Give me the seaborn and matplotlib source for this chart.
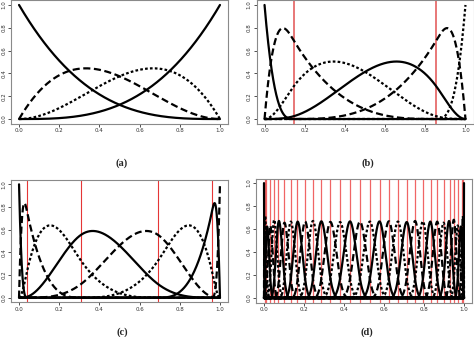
import numpy as np
import pandas as pd
import matplotlib
matplotlib.use("Agg")
import matplotlib.pyplot as plt
import seaborn as sns

# ---- data: interior knot positions (cubic B-spline bases on [0, 1]) ----
knots_a = []
knots_b = [0.145, 0.855]
knots_c = [0.04, 0.31, 0.69, 0.96]
knots_d = [0.003, 0.01, 0.03, 0.05, 0.072, 0.10, 0.133, 0.167, 0.205, 0.243, 0.285,
           0.33, 0.38, 0.43, 0.48, 0.53, 0.578, 0.625, 0.67, 0.715, 0.757, 0.795,
           0.833, 0.867, 0.90, 0.928, 0.95, 0.97, 0.99, 0.997]
panel_labels = ["(a)", "(b)", "(c)", "(d)"]
xticks = [0.0, 0.2, 0.4, 0.6, 0.8, 1.0]
xtick_labels = ["0.0", "0.2", "0.4", "0.6", "0.8", "1.0"]
yticks = [0.0, 0.2, 0.4, 0.6, 0.8, 1.0]
ytick_labels = ["0.0", "0.2", "0.4", "0.6", "0.8", "1.0"]
degree = 3


def bspline_basis(x, interior, k=3):
    t = np.concatenate([np.zeros(k + 1), np.array(interior, float), np.ones(k + 1)])
    n = len(t) - k - 1
    B = np.zeros((len(x), len(t) - 1))
    for i in range(len(t) - 1):
        if t[i] < t[i + 1]:
            B[:, i] = (x >= t[i]) & (x < t[i + 1])
    last = np.max(np.nonzero(t[:-1] < t[1:])[0])
    B[x >= 1.0, :] = 0
    B[x >= 1.0, last] = 1
    for d in range(1, k + 1):
        Bn = np.zeros((len(x), len(t) - 1 - d))
        for i in range(len(t) - 1 - d):
            a = t[i + d] - t[i]
            b = t[i + d + 1] - t[i + 1]
            term = 0
            if a > 0:
                term = term + (x - t[i]) / a * B[:, i]
            if b > 0:
                term = term + (t[i + d + 1] - x) / b * B[:, i + 1]
            Bn[:, i] = term
        B = Bn
    return B[:, :n]


sns.set_style("white")
W, H = 474, 337
fig = plt.figure(figsize=(W / 100, H / 100), dpi=100)


def ax_at(l, t, r, b):
    return fig.add_axes([l / W, 1 - b / H, (r - l) / W, (b - t) / H])


axes = [ax_at(11, 0.4, 228, 123.6), ax_at(256.5, 0.4, 473.5, 123.6),
        ax_at(11, 179.8, 228, 302.2), ax_at(256, 178.5, 472, 302.6)]
knot_sets = [knots_a, knots_b, knots_c, knots_d]
styles = [(None, "-"), ((3.2, 1.6), "--"), ((1.2, 1.0), ":")]
red_color = ["#e32020", "#e04848", "#e32020", "#ee4a4a"]
red_lw = [0, 1.3, 0.8, 0.9]
red_alpha = [0, 0.8, 0.9, 0.85]
label_pos = [(122, 163), (368, 163), (122, 332), (367, 332)]

x = np.linspace(0, 1, 1200)
for idx, (ax, kn) in enumerate(zip(axes, knot_sets)):
    B = bspline_basis(x, kn, degree)
    for j in kn:
        ax.axvline(j, color=red_color[idx], lw=red_lw[idx], alpha=red_alpha[idx], zorder=1)
    for j in range(B.shape[1]):
        dash, ls = styles[j % 3]
        df = pd.DataFrame({"x": x, "y": B[:, j]})
        sns.lineplot(data=df, x="x", y="y", ax=ax, sort=False, estimator=None,
                     color="black", lw=1.6, zorder=2)
        if dash is not None:
            ax.lines[-1].set_dashes(dash)
    ax.set_xlim(-0.04, 1.04)
    ax.set_ylim(-0.04, 1.04)
    ax.set_xlabel("")
    ax.set_ylabel("")
    ax.set_xticks(xticks)
    ax.set_xticklabels(xtick_labels)
    ax.set_yticks(yticks)
    ax.set_yticklabels(ytick_labels, rotation=90, va="center")
    ax.tick_params(axis="both", which="both", length=2, width=0.6, pad=1.5,
                   labelsize=4, colors="#333333", direction="out",
                   bottom=True, left=True)
    for s in ax.spines.values():
        s.set_color("#8a8a8a")
        s.set_linewidth(0.8)
    lx, ly = label_pos[idx]
    fig.text(lx / W, 1 - ly / H, panel_labels[idx],
             ha="center", va="center", fontsize=7.5, fontweight="bold",
             family=["Liberation Serif", "DejaVu Serif"])

fig.savefig("out.png", dpi=100)
